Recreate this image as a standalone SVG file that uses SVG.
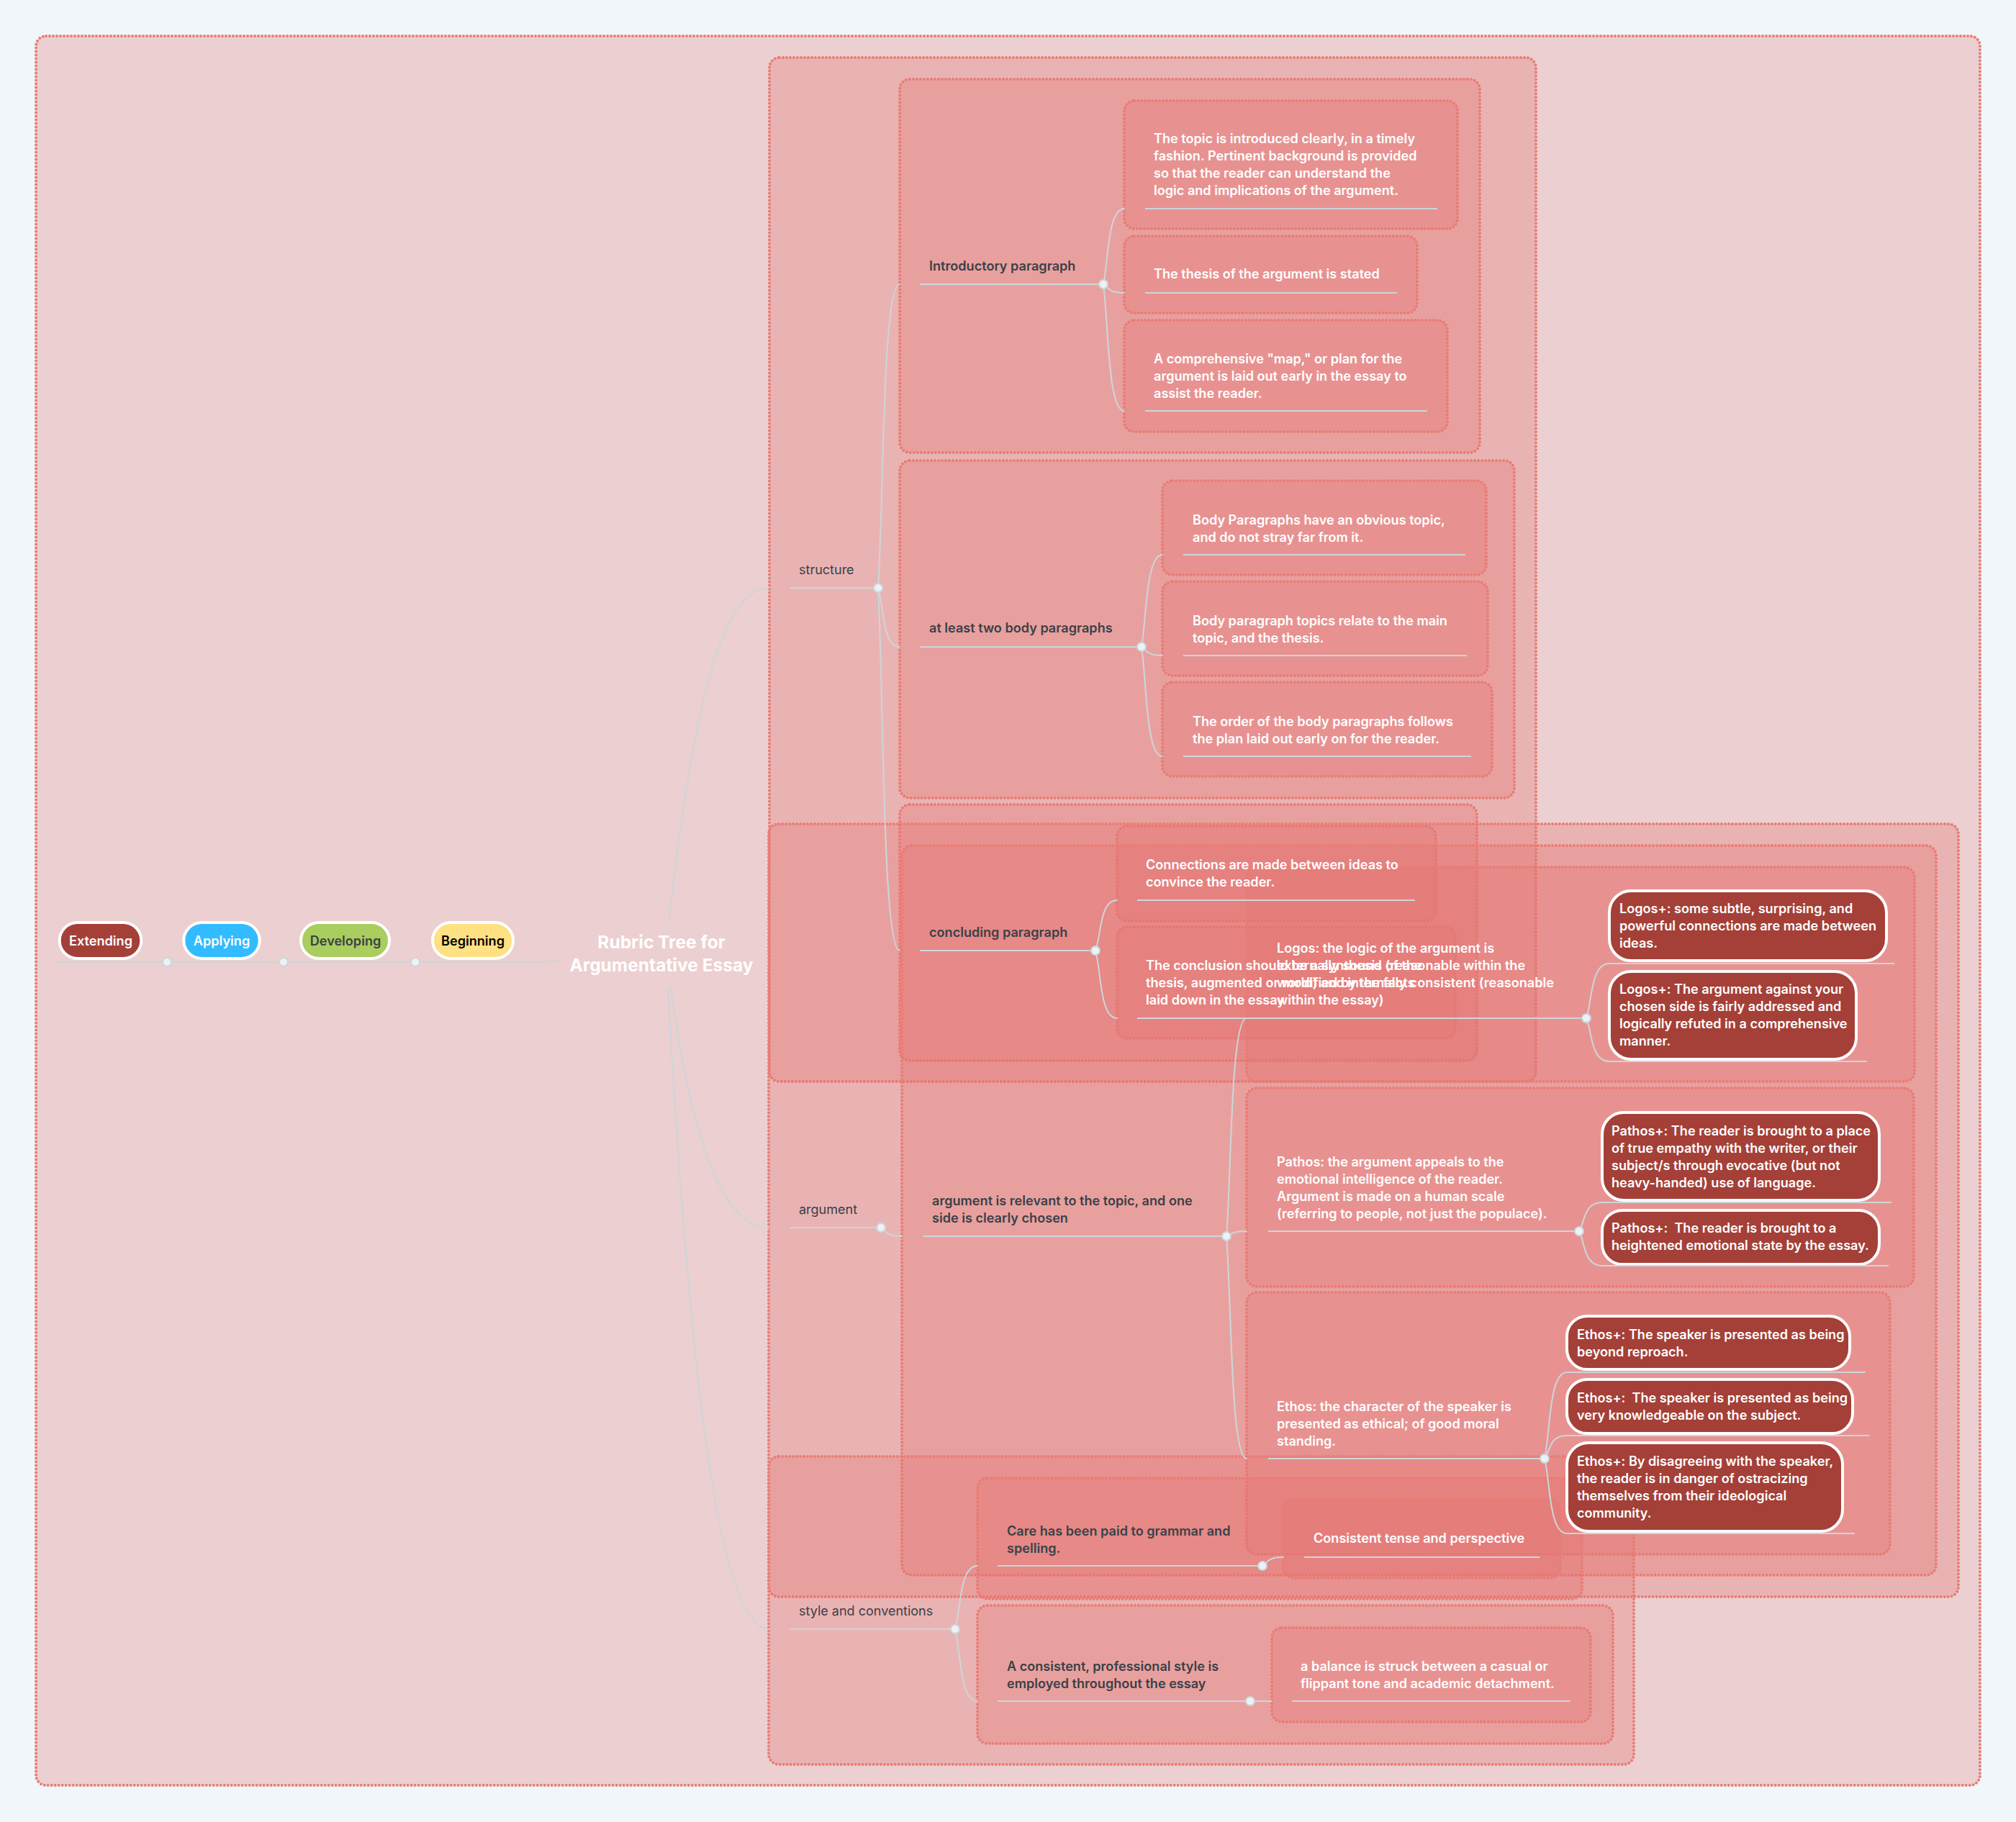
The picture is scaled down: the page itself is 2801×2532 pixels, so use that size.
<svg xmlns="http://www.w3.org/2000/svg" width="2801" height="2532" viewBox="0 0 2801 2532">
<style>
.b{fill:rgba(227,115,112,.3);stroke:#e87c74;stroke-width:4;stroke-dasharray:0 5;stroke-linecap:round}
.p{stroke:#fff;stroke-width:4}
.br{fill:#a44038}
.u{fill:none;stroke:#ccd6d9;stroke-width:2}
.c{fill:none;stroke:#ccd6d9;stroke-width:2;stroke-linecap:round}
.h{fill:#ecf2f5;stroke:#ccd6d9;stroke-width:2}
text{font-family:"Inter","Liberation Sans",sans-serif;font-size:18.1px;font-weight:600;transform:translateY(.7px)}
.w{fill:#fff}
.d{fill:#3a4147}
.r{font-weight:400;fill:#3a4147;font-size:18px}
.m{text-anchor:middle}
.t{font-size:24.5px;font-weight:700;fill:#fff;text-anchor:middle}
</style>
<rect width="2801" height="2532" fill="#f0f6f9"/>
<g id="boundaries">
<rect id="frame" class="b" x="50" y="50" width="2701" height="2431" rx="14"/>
<rect class="b" x="1069" y="80" width="1065" height="1423" rx="14"/>
<rect class="b" x="1250" y="110" width="806" height="519" rx="14"/>
<rect class="b" x="1562" y="140" width="463" height="178" rx="14"/>
<rect class="b" x="1562" y="328" width="407" height="107" rx="14"/>
<rect class="b" x="1562" y="445" width="449" height="155" rx="14"/>
<rect class="b" x="1250" y="640" width="854" height="469" rx="14"/>
<rect class="b" x="1615" y="668" width="450" height="131" rx="14"/>
<rect class="b" x="1615" y="808" width="452" height="131" rx="14"/>
<rect class="b" x="1615" y="948" width="458" height="131" rx="14"/>
<rect class="b" x="1250" y="1118" width="802" height="356" rx="14"/>
<rect class="b" x="1552" y="1148" width="443" height="132" rx="14"/>
<rect class="b" x="1552" y="1288" width="470" height="155" rx="14"/>
<rect class="b" x="1068" y="1145" width="1653" height="1074" rx="14"/>
<rect class="b" x="1253" y="1175" width="1437" height="1014" rx="14"/>
<rect class="b" x="1732" y="1205" width="928" height="298" rx="14"/>
<rect class="b" x="1732" y="1512" width="927" height="276" rx="14"/>
<rect class="b" x="1732" y="1796" width="894" height="364" rx="14"/>
<rect class="b" x="1068" y="2024" width="1202" height="428" rx="14"/>
<rect class="b" x="1358" y="2054" width="840" height="168" rx="14"/>
<rect class="b" x="1783" y="2084" width="385" height="109" rx="14"/>
<rect class="b" x="1358" y="2231" width="883" height="192" rx="14"/>
<rect class="b" x="1767" y="2262" width="443" height="131" rx="14"/>
</g>

<g id="n-extending"><rect class="p br" x="82.7" y="1282" width="113.6" height="50" rx="25"/><text class="w m" x="140" y="1313">Extending</text></g>
<g id="n-applying"><rect class="p" fill="#33bbff" x="255.3" y="1282" width="105.4" height="50" rx="25"/><text class="w m" x="308" y="1313">Applying</text></g>
<g id="n-developing"><rect class="p" fill="#a9cd5f" x="418" y="1282" width="123" height="50" rx="25"/><text class="d m" x="480" y="1313">Developing</text></g>
<g id="n-beginning"><rect class="p" fill="#ffe082" x="601" y="1282" width="112" height="50" rx="25"/><text class="m" fill="#000" x="657" y="1313">Beginning</text></g>
<g id="n-root"><text class="t" x="919" y="1317">Rubric Tree for</text><text class="t" x="919" y="1349">Argumentative Essay</text></g>

<g id="n-structure"><text class="r" x="1110" y="797">structure</text><path class="u" d="M1097 817H1220"/></g>
<g id="n-intro"><text class="d" x="1291" y="375">Introductory paragraph</text><path class="u" d="M1278 395H1533"/></g>
<g id="n-intro-1"><text class="w"><tspan x="1603" y="198">The topic is introduced clearly, in a timely</tspan><tspan x="1603" y="222">fashion. Pertinent background is provided</tspan><tspan x="1603" y="246">so that the reader can understand the</tspan><tspan x="1603" y="270">logic and implications of the argument.</tspan></text><path class="u" d="M1591 290H1997"/></g>
<g id="n-intro-2"><text class="w" x="1603" y="386">The thesis of the argument is stated</text><path class="u" d="M1591 407H1941"/></g>
<g id="n-intro-3"><text class="w"><tspan x="1603" y="504">A comprehensive "map," or plan for the</tspan><tspan x="1603" y="528">argument is laid out early in the essay to</tspan><tspan x="1603" y="552">assist the reader.</tspan></text><path class="u" d="M1591 571H1983"/></g>

<g id="n-body"><text class="d" x="1291" y="878">at least two body paragraphs</text><path class="u" d="M1278 899H1586"/></g>
<g id="n-body-1"><text class="w"><tspan x="1657" y="728">Body Paragraphs have an obvious topic,</tspan><tspan x="1657" y="752">and do not stray far from it.</tspan></text><path class="u" d="M1644 771H2036"/></g>
<g id="n-body-2"><text class="w"><tspan x="1657" y="868">Body paragraph topics relate to the main</tspan><tspan x="1657" y="892">topic, and the thesis.</tspan></text><path class="u" d="M1644 911H2038"/></g>
<g id="n-body-3"><text class="w"><tspan x="1657" y="1008">The order of the body paragraphs follows</tspan><tspan x="1657" y="1032">the plan laid out early on for the reader.</tspan></text><path class="u" d="M1644 1051H2044"/></g>

<g id="n-concl"><text class="d" x="1291" y="1301">concluding paragraph</text><path class="u" d="M1278 1321H1522"/></g>
<g id="n-concl-1"><text class="w"><tspan x="1592" y="1207">Connections are made between ideas to</tspan><tspan x="1592" y="1231">convince the reader.</tspan></text><path class="u" d="M1580 1251H1966"/></g>
<g id="n-concl-2"><text class="w"><tspan x="1592" y="1347">The conclusion should be a synthesis of the</tspan><tspan x="1592" y="1371">thesis, augmented or modified by the facts</tspan><tspan x="1592" y="1395">laid down in the essay</tspan></text><path class="u" d="M1580 1415H1990"/></g>

<g id="n-argument"><text class="r" x="1110" y="1686">argument</text><path class="u" d="M1097 1706H1224"/></g>
<g id="n-relevant"><text class="d"><tspan x="1295" y="1674">argument is relevant to the topic, and one</tspan><tspan x="1295" y="1698">side is clearly chosen</tspan></text><path class="u" d="M1282 1718H1704"/></g>
<g id="n-logos"><text class="w"><tspan x="1774" y="1323">Logos: the logic of the argument is</tspan><tspan x="1774" y="1347">externally sound (reasonable within the</tspan><tspan x="1774" y="1371">world) and internally consistent (reasonable</tspan><tspan x="1774" y="1395">within the essay)</tspan></text><path class="u" d="M1761 1415H2204"/></g>
<g id="n-logos-1"><rect class="p br" x="2236" y="1238" width="385" height="97" rx="30"/><text class="w"><tspan x="2250" y="1268">Logos+: some subtle, surprising, and</tspan><tspan x="2250" y="1292">powerful connections are made between</tspan><tspan x="2250" y="1316">ideas.</tspan></text><path class="u" d="M2236 1339H2632"/></g>
<g id="n-logos-2"><rect class="p br" x="2236" y="1350" width="343" height="122" rx="30"/><text class="w"><tspan x="2250" y="1380">Logos+: The argument against your</tspan><tspan x="2250" y="1404">chosen side is fairly addressed and</tspan><tspan x="2250" y="1428">logically refuted in a comprehensive</tspan><tspan x="2250" y="1452">manner.</tspan></text><path class="u" d="M2236 1475H2594"/></g>
<g id="n-pathos"><text class="w"><tspan x="1774" y="1620">Pathos: the argument appeals to the</tspan><tspan x="1774" y="1644">emotional intelligence of the reader.</tspan><tspan x="1774" y="1668">Argument is made on a human scale</tspan><tspan x="1774" y="1692">(referring to people, not just the populace).</tspan></text><path class="u" d="M1762 1711H2194"/></g>
<g id="n-pathos-1"><rect class="p br" x="2226" y="1546" width="385" height="122" rx="30"/><text class="w"><tspan x="2239" y="1577">Pathos+: The reader is brought to a place</tspan><tspan x="2239" y="1601">of true empathy with the writer, or their</tspan><tspan x="2239" y="1625">subject/s through evocative (but not</tspan><tspan x="2239" y="1649">heavy-handed) use of language.</tspan></text><path class="u" d="M2226 1671H2628"/></g>
<g id="n-pathos-2"><rect class="p br" x="2226" y="1682" width="385" height="75" rx="28"/><text class="w"><tspan x="2239" y="1712" xml:space="preserve">Pathos+:  The reader is brought to a</tspan><tspan x="2239" y="1736">heightened emotional state by the essay.</tspan></text><path class="u" d="M2226 1759H2624"/></g>
<g id="n-ethos"><text class="w"><tspan x="1774" y="1960">Ethos: the character of the speaker is</tspan><tspan x="1774" y="1984">presented as ethical; of good moral</tspan><tspan x="1774" y="2008">standing.</tspan></text><path class="u" d="M1762 2027H2146"/></g>
<g id="n-ethos-1"><rect class="p br" x="2177" y="1829" width="393" height="74" rx="28"/><text class="w"><tspan x="2191" y="1860">Ethos+: The speaker is presented as being</tspan><tspan x="2191" y="1884">beyond reproach.</tspan></text><path class="u" d="M2177 1907H2592"/></g>
<g id="n-ethos-2"><rect class="p br" x="2177" y="1917" width="397" height="75" rx="28"/><text class="w"><tspan x="2191" y="1948" xml:space="preserve">Ethos+:  The speaker is presented as being</tspan><tspan x="2191" y="1972">very knowledgeable on the subject.</tspan></text><path class="u" d="M2177 1995H2597"/></g>
<g id="n-ethos-3"><rect class="p br" x="2177" y="2005" width="383" height="123" rx="30"/><text class="w"><tspan x="2191" y="2036">Ethos+: By disagreeing with the speaker,</tspan><tspan x="2191" y="2060">the reader is in danger of ostracizing</tspan><tspan x="2191" y="2084">themselves from their ideological</tspan><tspan x="2191" y="2108">community.</tspan></text><path class="u" d="M2177 2131H2577"/></g>

<g id="n-style"><text class="r" x="1110" y="2244">style and conventions</text><path class="u" d="M1097 2264H1327"/></g>
<g id="n-care"><text class="d"><tspan x="1399" y="2133">Care has been paid to grammar and</tspan><tspan x="1399" y="2157">spelling.</tspan></text><path class="u" d="M1386 2176H1754"/></g>
<g id="n-tense"><text class="w" x="1825" y="2143">Consistent tense and perspective</text><path class="u" d="M1812 2164H2139"/></g>
<g id="n-prof"><text class="d"><tspan x="1399" y="2321">A consistent, professional style is</tspan><tspan x="1399" y="2345">employed throughout the essay</tspan></text><path class="u" d="M1386 2364H1737"/></g>
<g id="n-balance"><text class="w"><tspan x="1807" y="2321">a balance is struck between a casual or</tspan><tspan x="1807" y="2345">flippant tone and academic detachment.</tspan></text><path class="u" d="M1795 2364H2182"/></g>

<g id="connectors">
<path class="c" d="M79 1337H740Q760 1337 777 1335"/>
<path class="c" d="M930 1275C955 1060 990 817 1068 817"/>
<path class="c" d="M932 1374C950 1500 985 1706 1068 1706"/>
<path class="c" d="M928 1374C950 1750 985 2264 1068 2264"/>
<path class="c" d="M1220 817C1228 690 1226 395 1250 395M1220 817C1228 842 1226 899 1250 899M1220 817C1228 968 1226 1321 1250 1321"/>
<path class="c" d="M1533 395C1540 363 1539 290 1562 290M1533 395C1540 399 1539 407 1562 407M1533 395C1540 448 1539 571 1562 571"/>
<path class="c" d="M1586 899C1593 861 1592 771 1615 771M1586 899C1593 903 1592 911 1615 911M1586 899C1593 945 1592 1051 1615 1051"/>
<path class="c" d="M1522 1321C1530 1300 1528 1251 1552 1251M1522 1321C1530 1349 1528 1415 1552 1415"/>
<path class="c" d="M1224 1706C1231 1710 1230 1718 1253 1718"/>
<path class="c" d="M1704 1718C1711 1627 1710 1415 1732 1415M1704 1718C1711 1716 1710 1711 1732 1711M1704 1718C1711 1811 1710 2027 1732 2027"/>
<path class="c" d="M2204 1415C2212 1392 2210 1339 2236 1339M2204 1415C2212 1433 2210 1475 2236 1475"/>
<path class="c" d="M2194 1711C2202 1699 2200 1671 2226 1671M2194 1711C2202 1725 2200 1759 2226 1759"/>
<path class="c" d="M2146 2027C2154 1991 2152 1907 2177 1907M2146 2027C2154 2017 2152 1995 2177 1995M2146 2027C2154 2058 2152 2131 2177 2131"/>
<path class="c" d="M1327 2264C1335 2238 1333 2176 1358 2176M1327 2264C1335 2294 1333 2364 1358 2364"/>
<path class="c" d="M1754 2176C1761 2172 1760 2164 1783 2164"/>
<path class="c" d="M1737 2364H1767"/>
<circle class="h" cx="232" cy="1337" r="6"/><circle class="h" cx="394" cy="1337" r="6"/><circle class="h" cx="577" cy="1337" r="6"/>
<circle class="h" cx="1220" cy="817" r="6"/><circle class="h" cx="1533" cy="395" r="6"/><circle class="h" cx="1586" cy="899" r="6"/><circle class="h" cx="1522" cy="1321" r="6"/>
<circle class="h" cx="1224" cy="1706" r="6"/><circle class="h" cx="1704" cy="1718" r="6"/><circle class="h" cx="2204" cy="1415" r="6"/><circle class="h" cx="2194" cy="1711" r="6"/><circle class="h" cx="2146" cy="2027" r="6"/>
<circle class="h" cx="1327" cy="2264" r="6"/><circle class="h" cx="1754" cy="2176" r="6"/><circle class="h" cx="1737" cy="2364" r="6"/>
</g>
</svg>
